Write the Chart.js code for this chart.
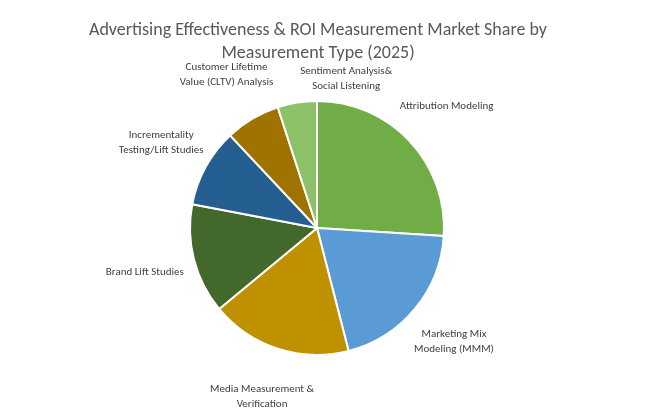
<!DOCTYPE html>
<html>
<head>
<meta charset="utf-8">
<script src="https://cdn.jsdelivr.net/npm/chart.js@4.4.0/dist/chart.umd.min.js"></script>
<style>
  html, body { margin: 0; padding: 0; background: #fff; }
  #wrap { width: 646px; height: 412px; }
</style>
</head>
<body>
<div id="wrap"><canvas id="pie"></canvas></div>
<script>
const titleLines = ["Advertising Effectiveness & ROI Measurement Market Share by", "Measurement Type (2025)"];
const labels = [
    ["Attribution Modeling"],
    ["Marketing Mix", "Modeling (MMM)"],
    ["Media Measurement &", "Verification"],
    ["Brand Lift Studies"],
    ["Incrementality", "Testing/Lift Studies"],
    ["Customer Lifetime", "Value (CLTV) Analysis"],
    ["Sentiment Analysis&", "Social Listening"]
];
const shares = [26, 20, 18, 14, 10, 7, 5];
const colors = ["#70AD47", "#5B9BD5", "#BF9000", "#43682B", "#255E91", "#9E7300", "#8CC168"];

const FONT = "Calibri, Carlito, 'Open Sans', sans-serif";

// draws title and outside slice labels
const pieText = {
    id: "pieText",
    afterDraw(chart) {
        const ctx = chart.ctx;
        ctx.save();
        ctx.fillStyle = "#595959";
        ctx.textAlign = "center";
        ctx.textBaseline = "middle";
        ctx.font = `18px ${FONT}`;
        titleLines.forEach((t, i) => ctx.fillText(t, 318, 30 + i * 23));

        ctx.font = `11px ${FONT}`;
        ctx.fillStyle = "#404040";
        const meta = chart.getDatasetMeta(0);
        meta.data.forEach((arc, i) => {
            const mid = (arc.startAngle + arc.endAngle) / 2;
            const f = i === 6 ? 1.2 : 1.4;
            const shift = i === 6 ? 0.35 : 0;
            const x = arc.x + Math.cos(mid + shift) * arc.outerRadius * f;
            const y = arc.y + Math.sin(mid + shift) * arc.outerRadius * f;
            const lines = labels[i];
            lines.forEach((l, j) => ctx.fillText(l, x, y + (j - (lines.length - 1) / 2) * 15));
        });
        ctx.restore();
    }
};

new Chart(document.getElementById("pie").getContext("2d"), {
    type: "pie",
    data: {
        labels: labels.map(l => l.join(" ")),
        datasets: [{
            data: shares,
            backgroundColor: colors,
            borderColor: "#ffffff",
            borderWidth: 2
        }]
    },
    options: {
        responsive: true,
        maintainAspectRatio: false,
        animation: false,
        layout: { padding: { top: 100, bottom: 56, left: 189, right: 201 } },
        plugins: {
            legend: { display: false },
            tooltip: { enabled: false }
        }
    },
    plugins: [pieText]
});
</script>
</body>
</html>
